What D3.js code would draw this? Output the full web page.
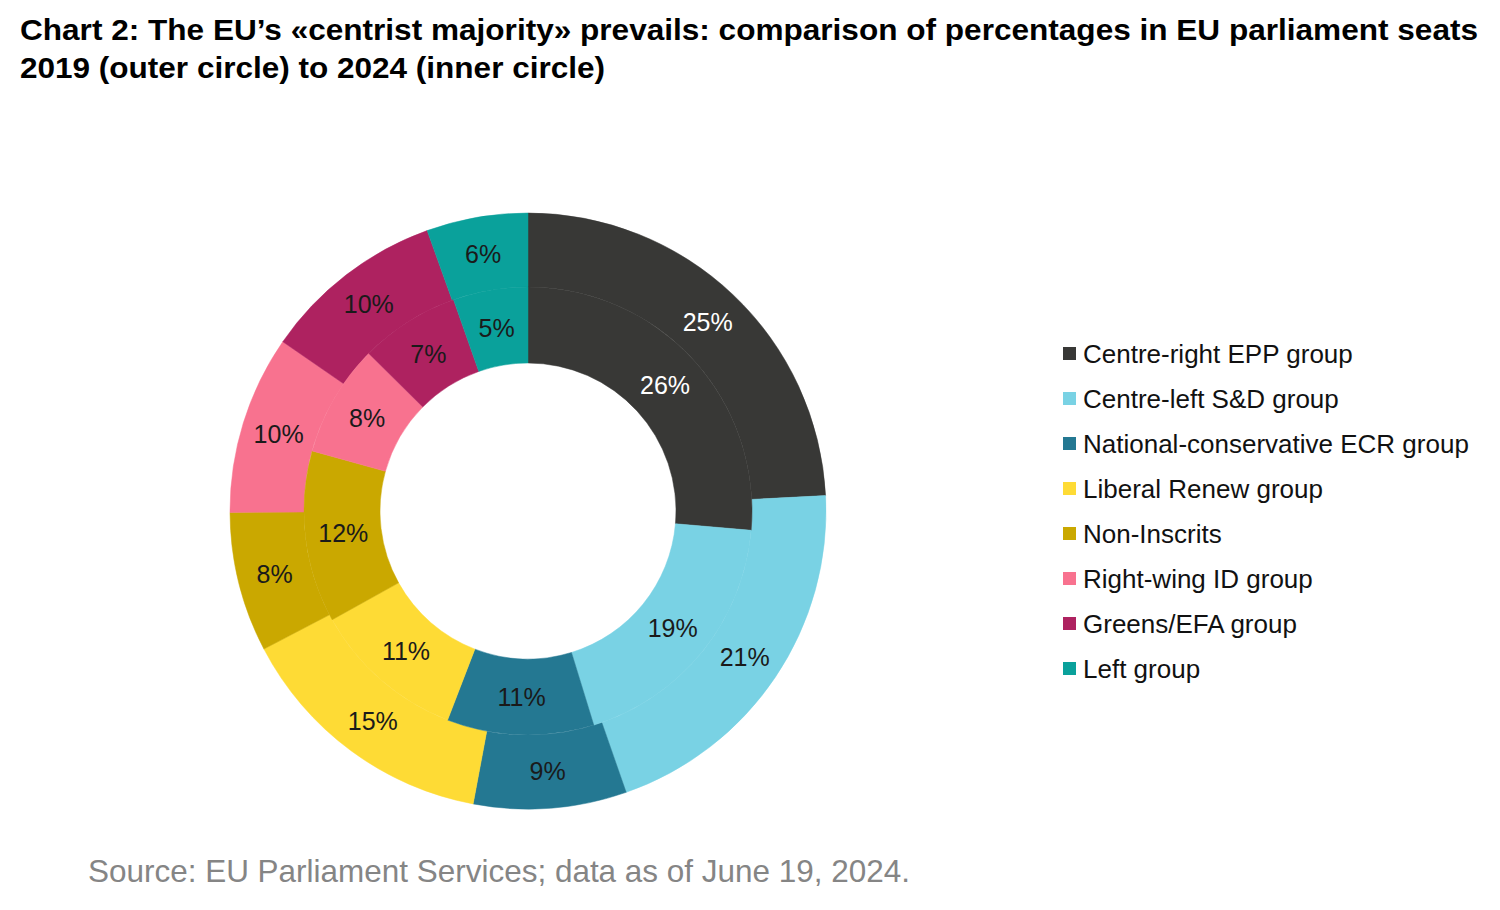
<!DOCTYPE html>
<html>
  <head>
    <meta charset="utf-8">
    <script type="text/javascript" src="https://cdn.jsdelivr.net/npm/d3@7"></script>
    <style type="text/css">

html, body {
  margin: 0;
  background: #fff;
}

svg {
  display: block;
}

.title {
  font: bold 30px "Liberation Sans Narrow", "Liberation Sans", Arial, sans-serif;
  fill: #000;
}

.source {
  font: 32px "Liberation Sans Narrow", "Liberation Sans", Arial, sans-serif;
  fill: #858585;
}

.label {
  font: 25px "Liberation Sans", Arial, sans-serif;
}

.legend text {
  font: 26px "Liberation Sans", Arial, sans-serif;
  fill: #111;
}

    </style>
  </head>
  <body>
    <div id="chart"></div>
    <script type="text/javascript">

var groups = ["Centre-right EPP group", "Centre-left S&D group", "National-conservative ECR group",
  "Liberal Renew group", "Non-Inscrits", "Right-wing ID group", "Greens/EFA group", "Left group"];
var colors = ["#383836", "#79d2e4", "#247892", "#fedb35", "#caa800", "#f8728f", "#ae2260", "#0aa19b"];

var seats2019 = [24.2, 20.5, 8.3, 14.4, 7.6, 9.7, 9.9, 5.5];
var seats2024 = [26.4, 18.9, 10.6, 11.1, 12.4, 8.1, 7.2, 5.4];

// the printed labels (as shown on the chart)
var labels2019 = ["25%", "21%", "9%", "15%", "8%", "10%", "10%", "6%"];
var labels2024 = ["26%", "19%", "11%", "11%", "12%", "8%", "7%", "5%"];

var width = 1500, height = 910;
var cx = 528, cy = 511;
var rHole = 148, rMid = 224, rOuter = 298;

var svg = d3.select("#chart").append("svg")
    .attr("width", width)
    .attr("height", height);

svg.append("rect")
    .attr("width", width)
    .attr("height", height)
    .attr("fill", "#fff");

// Title, two lines…
var title = ["Chart 2: The EU\u2019s \u00abcentrist majority\u00bb prevails: comparison of percentages in EU parliament seats",
  "2019 (outer circle) to 2024 (inner circle)"];
var titleWidths = [1458, 585];

svg.selectAll("text.title")
    .data(title)
  .enter().append("text")
    .attr("class", "title")
    .attr("x", 20)
    .attr("y", function(d, i) { return 40 + i * 38; })
    .attr("textLength", function(d, i) { return titleWidths[i]; })
    .attr("lengthAdjust", "spacingAndGlyphs")
    .text(function(d) { return d; });

var pie = d3.pie()
    .sort(null)
    .value(function(d) { return d; });

var rings = [
  {values: seats2019, labels: labels2019, inner: rMid, outer: rOuter},
  {values: seats2024, labels: labels2024, inner: rHole, outer: rMid}
];

var g = svg.append("g")
    .attr("transform", "translate(" + cx + "," + cy + ")");

rings.forEach(function(ring) {
  var arc = d3.arc()
      .innerRadius(ring.inner)
      .outerRadius(ring.outer);

  var slices = pie(ring.values);

  g.append("g").selectAll("path")
      .data(slices)
    .enter().append("path")
      .attr("d", arc)
      .attr("fill", function(d, i) { return colors[i]; })
      .attr("stroke", function(d, i) { return colors[i]; })
      .attr("stroke-width", 0.5);

  g.append("g").selectAll("text")
      .data(slices)
    .enter().append("text")
      .attr("class", "label")
      .attr("transform", function(d) { return "translate(" + arc.centroid(d) + ")"; })
      .attr("text-anchor", "middle")
      .attr("dy", "0.36em")
      .attr("fill", function(d, i) { return i === 0 ? "#fff" : "#1a1a1a"; })
      .text(function(d, i) { return ring.labels[i]; });
});

// Legend on the right…
var legend = svg.append("g")
    .attr("class", "legend")
    .attr("transform", "translate(1063,354)");

var item = legend.selectAll("g")
    .data(groups)
  .enter().append("g")
    .attr("transform", function(d, i) { return "translate(0," + i * 45 + ")"; });

item.append("rect")
    .attr("x", 0)
    .attr("y", -7)
    .attr("width", 13)
    .attr("height", 13)
    .attr("fill", function(d, i) { return colors[i]; });

item.append("text")
    .attr("x", 20)
    .attr("dy", "0.36em")
    .text(function(d) { return d; });

// Source note…
svg.append("text")
    .attr("class", "source")
    .attr("x", 88)
    .attr("y", 882)
    .attr("textLength", 822)
    .attr("lengthAdjust", "spacingAndGlyphs")
    .text("Source: EU Parliament Services; data as of June 19, 2024.");

    </script>
  </body>
</html>
